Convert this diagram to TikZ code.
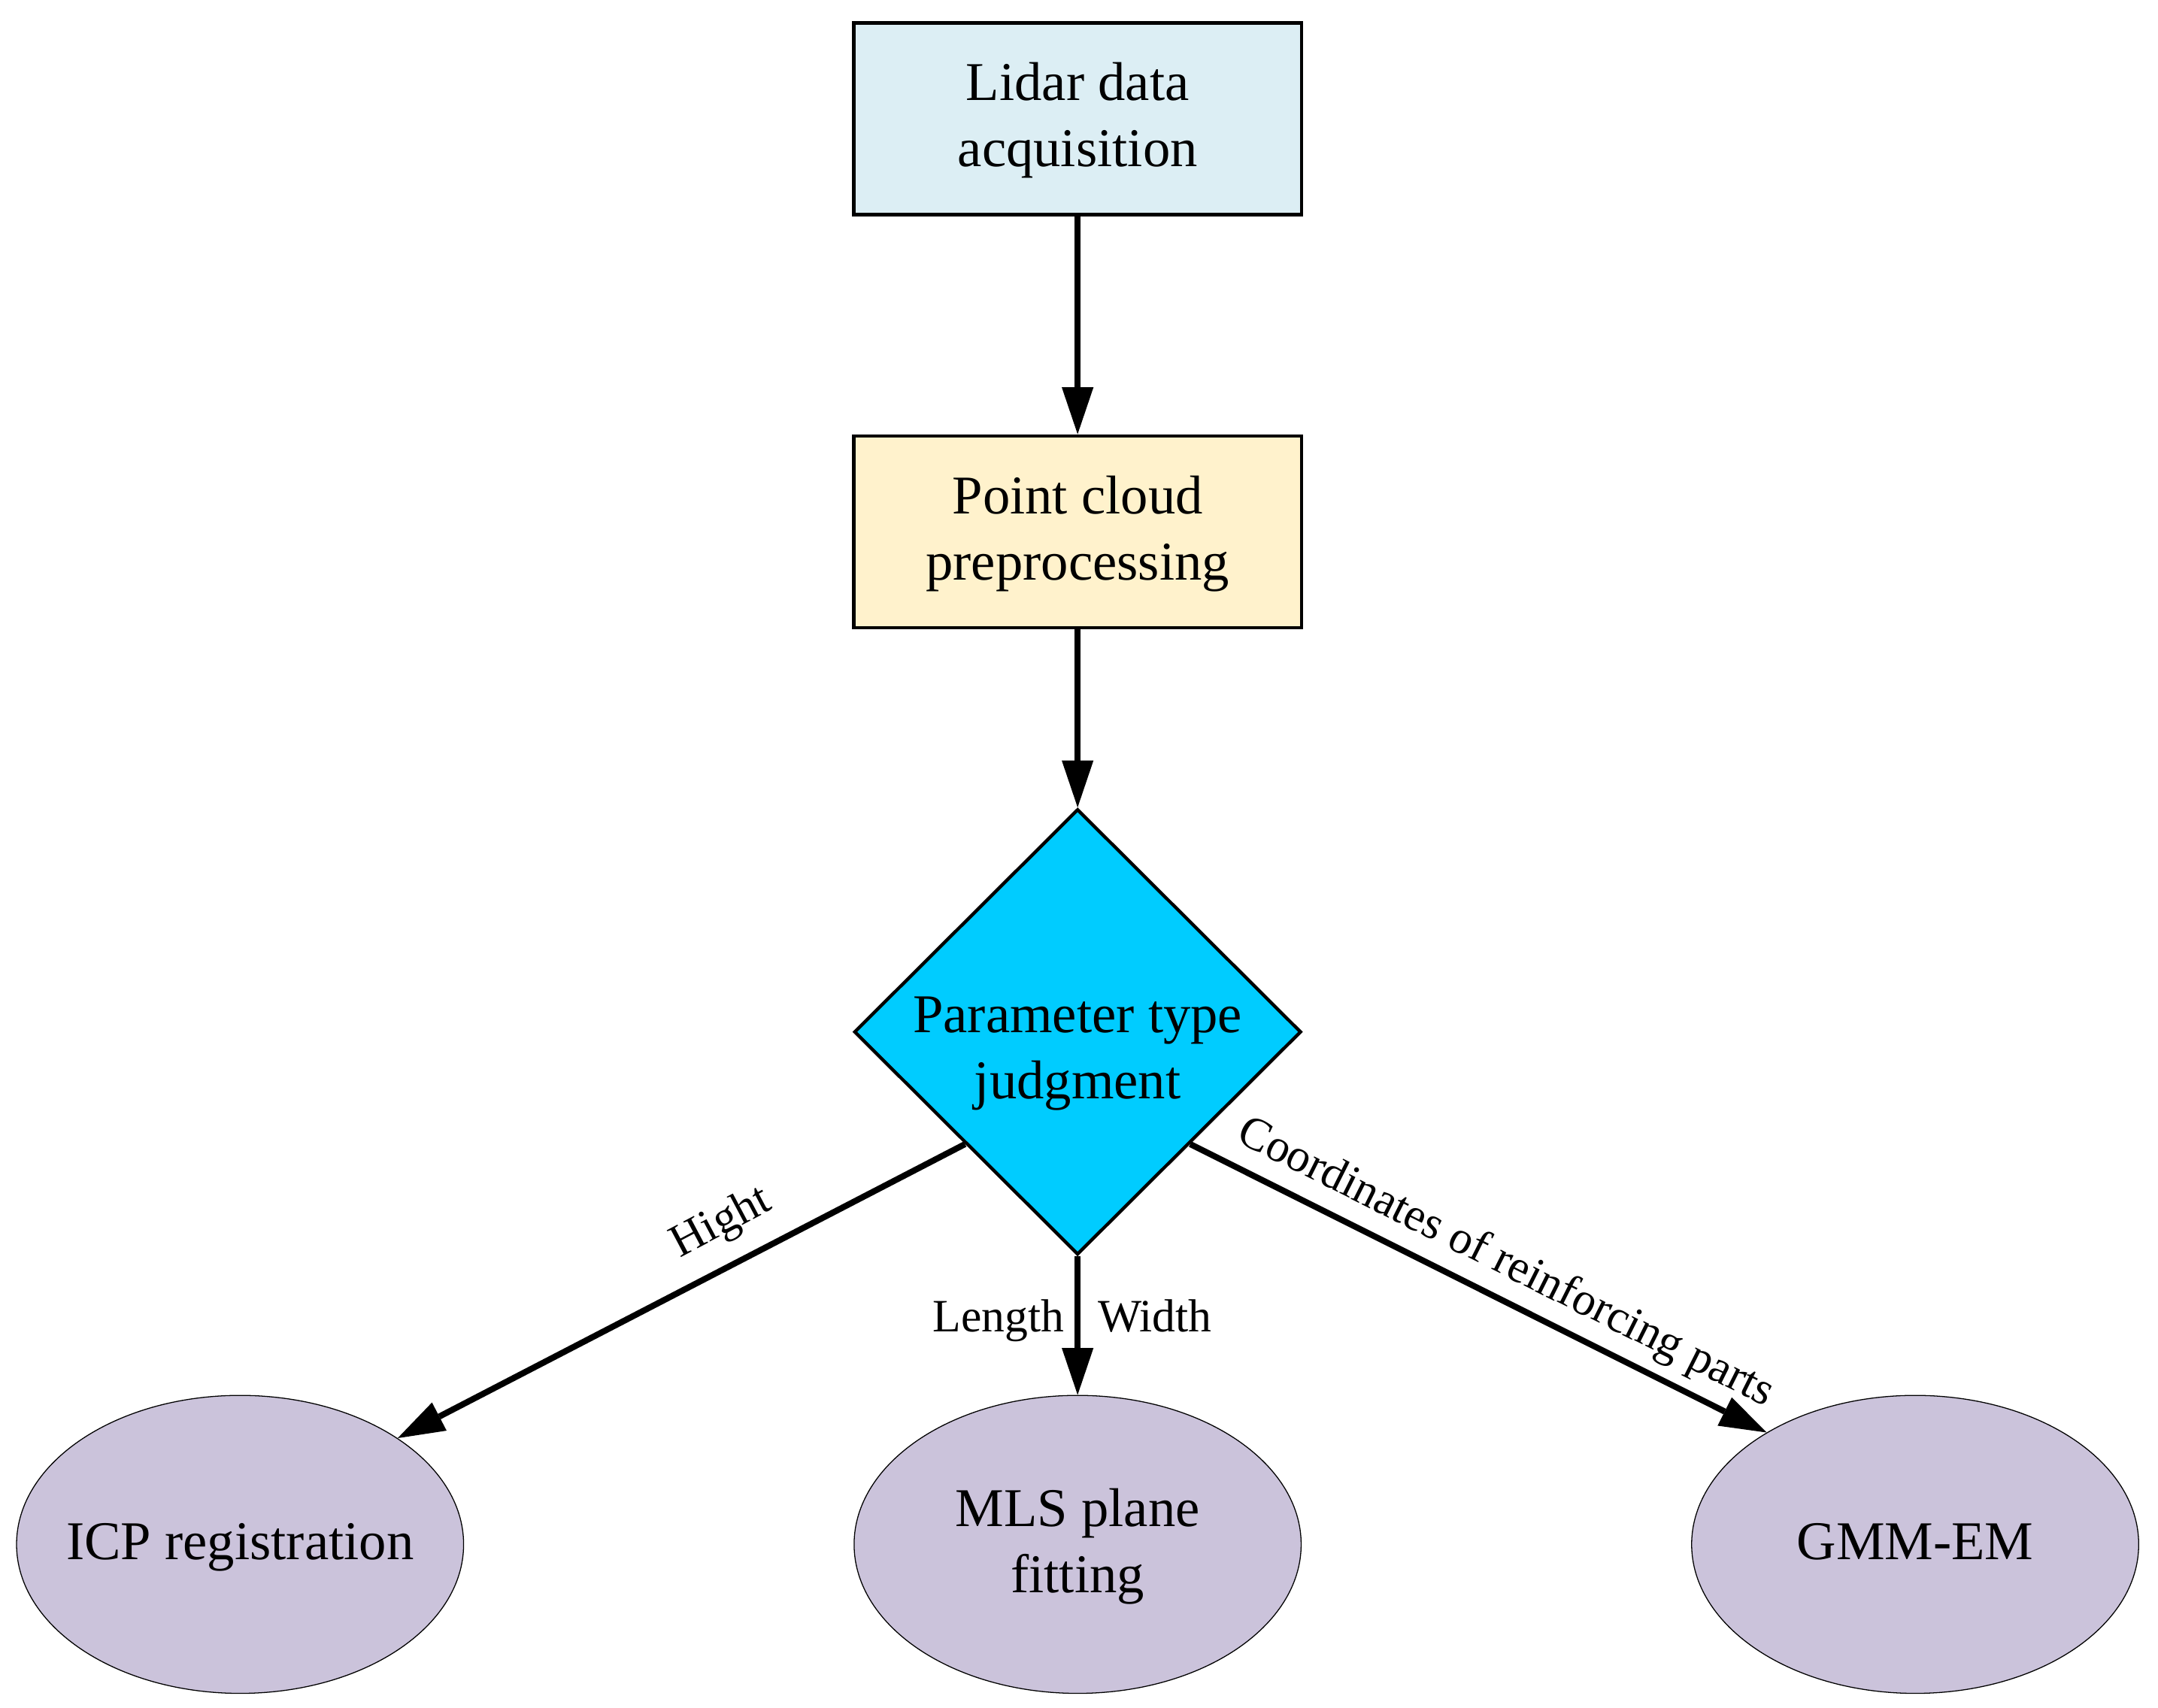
\documentclass[tikz,border=0pt]{standalone}
\usepackage{fontspec}
\setmainfont{Liberation Serif}
\usetikzlibrary{shapes.geometric,arrows.meta}
\definecolor{lidarfill}{HTML}{DCEEF4}
\definecolor{pcfill}{HTML}{FFF2CC}
\definecolor{diafill}{HTML}{00CCFF}
\definecolor{ellfill}{HTML}{CBC3DB}
\newcommand{\ntext}[2]{\raisebox{#1}[0pt][0pt]{\makebox[0pt]{\begin{tabular}{@{}c@{}}#2\end{tabular}}}}
\begin{document}
\begin{tikzpicture}[x=0.5pt,y=-0.5pt,
  nfont/.style={font={\fontsize{19.8}{24}\selectfont}},
  boxnode/.style={draw, line width=1.25pt, rectangle, minimum width=162.25pt, minimum height=69.5pt, inner sep=0pt, nfont},
  decnode/.style={draw, line width=1.2pt, diamond, minimum width=162pt, minimum height=161.5pt, inner sep=0pt, fill=diafill, nfont},
  ellnode/.style={draw, line width=0.35pt, ellipse, fill=ellfill, minimum width=162pt, minimum height=108pt, inner sep=0pt, nfont},
  flow/.style={line width=2.2pt, -{Triangle[length=17pt,width=11.5pt,line width=0pt]}},
  elabel/.style={font={\fontsize{16.8}{20}\selectfont}, inner sep=0pt}]
\useasboundingbox (0,0) rectangle (1564,1238);
\node[boxnode, fill=lidarfill] (lidar) at (781,86) {\ntext{-5.8pt}{Lidar data\\acquisition}};
\node[boxnode, fill=pcfill] (point) at (781,385.5) {\ntext{-5.8pt}{Point cloud\\preprocessing}};
\node[decnode] (d) at (781,748) {\ntext{-12.5pt}{Parameter type\\judgment}};
\node[ellnode] (icp) at (174,1119.5) {\ntext{-5.8pt}{ICP registration}};
\node[ellnode] (mls) at (781,1119.5) {\ntext{-5.8pt}{MLS plane\\fitting}};
\node[ellnode] (gmm) at (1388,1119.5) {\ntext{-5.8pt}{GMM-EM}};
\draw[flow] (lidar) -- (point);
\draw[flow] (point) -- (d);
\draw[flow] (d.south west) -- (icp.34);
\draw[flow] (d) -- (mls);
\draw[flow] (d.south east) -- (gmm.143);
\node[elabel, rotate=27.9] (lh) at (523,887) {Hight};
\node[elabel, rotate=-26.6] (lc) at (1091,916) {Coordinates of reinforcing parts};
\node[elabel, anchor=base] (ll) at (723.5,965.5) {Length};
\node[elabel, anchor=base] (lw) at (837,965.5) {Width};
\end{tikzpicture}
\end{document}
